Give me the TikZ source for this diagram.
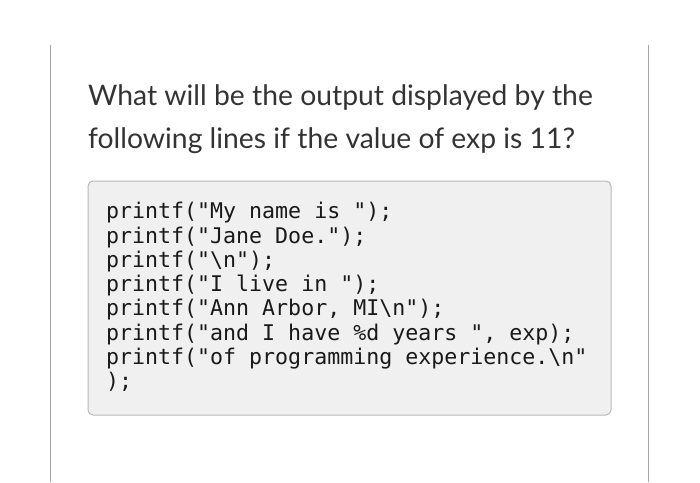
\documentclass[tikz,border=0pt]{standalone}
\usepackage{fontspec}
\setmainfont{Lato}
\setmonofont{DejaVu Sans Mono}
\begin{document}
\begin{tikzpicture}[x=1pt,y=-1pt,
  head/.style={anchor=base west,inner sep=0,font=\fontsize{28.3}{32}\selectfont,text=black!80},
  code/.style={anchor=base west,inner sep=0,font=\ttfamily\fontsize{21.6}{24}\selectfont,text=black!90}]
\useasboundingbox (0,0) rectangle (700,482);
\draw[black!35,line width=1] (50,45) -- (50,482);
\draw[black!35,line width=1] (648,45) -- (648,482);
\node[head] (h1) at (88,105) {What will be the output displayed by the};
\node[head] (h2) at (88,148) {following lines if the value of exp is 11?};
\draw[fill=black!6,draw=black!28,line width=1,rounded corners=5] (88,181) rectangle (611,415);
\node[code] (c1) at (106,218) {printf("My name is ");};
\node[code] (c2) at (106,243) {printf("Jane Doe.");};
\node[code] (c3) at (106,267) {printf("\textbackslash n");};
\node[code] (c4) at (106,291) {printf("I live in ");};
\node[code] (c5) at (106,315) {printf("Ann Arbor, MI\textbackslash n");};
\node[code] (c6) at (106,340) {printf("and I have \%d years ", exp);};
\node[code] (c7) at (106,364) {printf("of programming experience.\textbackslash n"};
\node[code] (c8) at (106,388) {);};
\end{tikzpicture}
\end{document}
